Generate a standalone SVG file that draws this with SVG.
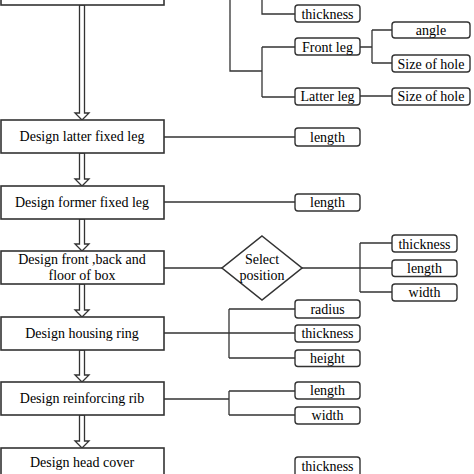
<svg xmlns="http://www.w3.org/2000/svg" width="474" height="474" viewBox="0 0 474 474">
<style>
.step{fill:#fff;stroke:#333;stroke-width:1.6}
.attr{fill:#fff;stroke:#333;stroke-width:1.4}
.flow{fill:#fff;stroke:#333;stroke-width:1.3}
.ln{fill:none;stroke:#333;stroke-width:1.3}
text{font-family:"Liberation Serif","Times New Roman",serif;font-size:14px;fill:#000;text-anchor:middle}
</style>
<rect width="474" height="474" fill="#fff"/>
<g id="connectors">
<polygon class="flow" points="79.5,5 79.5,113 75,113 82,120 89,113 84.5,113 84.5,5"/>
<polygon class="flow" points="79.5,153 79.5,179 75,179 82,186 89,179 84.5,179 84.5,153"/>
<polygon class="flow" points="79.5,219 79.5,244 75,244 82,251 89,244 84.5,244 84.5,219"/>
<polygon class="flow" points="79.5,284 79.5,310 75,310 82,317 89,310 84.5,310 84.5,284"/>
<polygon class="flow" points="79.5,350 79.5,375 75,375 82,382 89,375 84.5,375 84.5,350"/>
<polygon class="flow" points="79.5,415 79.5,441 75,441 82,448 89,441 84.5,441 84.5,415"/>
<path class="ln" d="M230,0V71H262M262,0V14H295M262,47V97M262,47H295M262,97H295"/>
<path class="ln" d="M360,47H372M372,30V63M372,30H392M372,63H392M360,96H392"/>
<path class="ln" d="M164,137H295M164,202H295"/>
<path class="ln" d="M164,268H222M302,268H392M360,243V292M360,243H392M360,292H392"/>
<path class="ln" d="M164,333H295M229,309V358M229,309H295M229,358H295"/>
<path class="ln" d="M164,399H229M229,391V415M229,391H295M229,415H295"/>
</g>
<g id="top-step"><rect class="step" x="1" y="-10" width="163" height="15"/></g>
<g id="latter-fixed-leg"><rect class="step" x="1" y="120" width="163" height="33"/><text x="82" y="141">Design latter fixed leg</text></g>
<g id="former-fixed-leg"><rect class="step" x="1" y="186" width="163" height="33"/><text x="82" y="207">Design former fixed leg</text></g>
<g id="box"><rect class="step" x="1" y="251" width="163" height="33"/><text x="82" y="264">Design front ,back and</text><text x="82" y="280">floor of box</text></g>
<g id="housing-ring"><rect class="step" x="1" y="317" width="163" height="33"/><text x="82" y="338">Design housing ring</text></g>
<g id="reinforcing-rib"><rect class="step" x="1" y="382" width="163" height="33"/><text x="82" y="403">Design reinforcing rib</text></g>
<g id="head-cover"><rect class="step" x="1" y="448" width="163" height="40"/><text x="82" y="467">Design head cover</text></g>
<g id="select-position"><polygon class="step" points="262,236 302,268 262,300 222,268"/><text x="262" y="264">Select</text><text x="262" y="280">position</text></g>
<g id="a-thickness1"><rect class="attr" x="295" y="5" width="65" height="17" rx="3"/><text x="327.5" y="18.5">thickness</text></g>
<g id="a-front-leg"><rect class="attr" x="295" y="38" width="65" height="17" rx="3"/><text x="327.5" y="51.5">Front leg</text></g>
<g id="a-latter-leg"><rect class="attr" x="295" y="88" width="65" height="17" rx="3"/><text x="327.5" y="101">Latter leg</text></g>
<g id="a-angle"><rect class="attr" x="392" y="22" width="78" height="16" rx="3"/><text x="431" y="35">angle</text></g>
<g id="a-hole1"><rect class="attr" x="392" y="55" width="78" height="17" rx="3"/><text x="431" y="68.5">Size of hole</text></g>
<g id="a-hole2"><rect class="attr" x="392" y="88" width="78" height="17" rx="3"/><text x="431" y="101">Size of hole</text></g>
<g id="a-length1"><rect class="attr" x="295" y="128" width="65" height="18" rx="3"/><text x="327.5" y="141.5">length</text></g>
<g id="a-length2"><rect class="attr" x="295" y="194" width="65" height="17" rx="3"/><text x="327.5" y="207">length</text></g>
<g id="a-thickness2"><rect class="attr" x="392" y="235" width="65" height="17" rx="3"/><text x="424.5" y="248.5">thickness</text></g>
<g id="a-length3"><rect class="attr" x="392" y="260" width="65" height="16.5" rx="3"/><text x="424.5" y="273">length</text></g>
<g id="a-width1"><rect class="attr" x="392" y="284" width="65" height="17" rx="3"/><text x="424.5" y="297">width</text></g>
<g id="a-radius"><rect class="attr" x="295" y="300" width="65" height="18" rx="3"/><text x="327.5" y="313.5">radius</text></g>
<g id="a-thickness3"><rect class="attr" x="295" y="325" width="65" height="17" rx="3"/><text x="327.5" y="338">thickness</text></g>
<g id="a-height"><rect class="attr" x="295" y="350" width="65" height="16.5" rx="3"/><text x="327.5" y="363">height</text></g>
<g id="a-length4"><rect class="attr" x="295" y="382" width="65" height="17" rx="3"/><text x="327.5" y="395">length</text></g>
<g id="a-width2"><rect class="attr" x="295" y="407" width="65" height="17" rx="3"/><text x="327.5" y="420">width</text></g>
<g id="a-thickness4"><rect class="attr" x="295" y="457" width="65" height="22" rx="3"/><text x="327.5" y="471">thickness</text></g>
</svg>
